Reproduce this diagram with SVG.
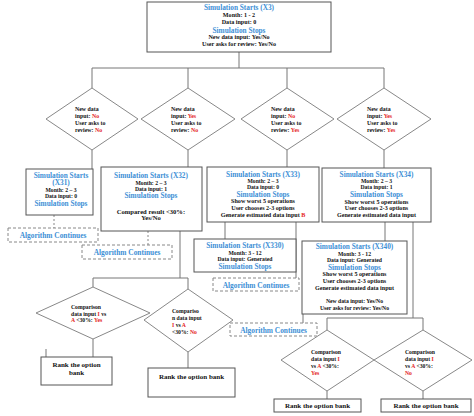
<svg xmlns="http://www.w3.org/2000/svg" width="474" height="416" viewBox="0 0 474 416">
<style>
.box{fill:#fff;stroke:#555;stroke-width:1}
.dia{fill:#fff;stroke:#888;stroke-width:1}
.dash{fill:#fff;stroke:#888;stroke-width:1;stroke-dasharray:3,2}
.ln{stroke:#777;stroke-width:1;fill:none}
.dl{stroke:#888;stroke-width:1;fill:none;stroke-dasharray:2,2}
text{font-family:"Liberation Serif","Times New Roman",serif;font-weight:bold}
.c{text-anchor:middle}
.bl{fill:#3d8fd6;font-size:7.3px}
.k{fill:#111;font-size:6.1px}
.s{fill:#111;font-size:5.7px}
.d{fill:#111;font-size:5.9px}
.r{fill:#e41e1e}
.rk{fill:#111;font-size:7px}
.ac{fill:#3d8fd6;font-size:7.4px}
</style>
<rect width="474" height="416" fill="#fff"/>
<g id="connectors">
<path class="ln" d="M239,52V68M92,68H384M92,68V88M188,68V88M287,68V88M384,68V88"/>
<path class="ln" d="M92,150V169M188,150V167M287,150V167M384,150V168"/>
<path class="dl" d="M54,215V228M148,231V245"/>
<path class="ln" d="M180,231V278M93,278H188M93,278V287M188,278V289"/>
<path class="ln" d="M93,339V357M46,349V357M188,352V368"/>
<path class="ln" d="M225,222V239M296,222V278M385,222V241M413,222V318M327,318H423M327,318V330M423,318V330M303,314V323"/>
<path class="ln" d="M327,391V399M423,391V399"/>
</g>
<g id="x3">
<rect class="box" x="147" y="2" width="184" height="50"/>
<text class="c bl" x="239" y="9.8">Simulation Starts (X3)</text>
<text class="c k" x="239" y="17.2">Month: 1 - 2</text>
<text class="c k" x="239" y="24.2">Data input: 0</text>
<text class="c bl" x="239" y="32.7">Simulation Stops</text>
<text class="c k" x="239" y="39.2">New data input: Yes/No</text>
<text class="c k" x="239" y="46.2">User asks for review: Yes/No</text>
</g>
<g id="d1">
<polygon class="dia" points="92,88 138,119 92,150 46,119"/>
<text class="d" x="75" y="111">New data</text>
<text class="d" x="75" y="118">input: <tspan class="r">No</tspan></text>
<text class="d" x="75" y="125">User asks to</text>
<text class="d" x="75" y="132">review: <tspan class="r">No</tspan></text>
</g>
<g id="d2">
<polygon class="dia" points="188,88 235,119 188,150 141,119"/>
<text class="d" x="171" y="111">New data</text>
<text class="d" x="171" y="118">input: <tspan class="r">Yes</tspan></text>
<text class="d" x="171" y="125">User asks to</text>
<text class="d" x="171" y="132">review: <tspan class="r">No</tspan></text>
</g>
<g id="d3">
<polygon class="dia" points="287,88 334,119 287,150 241,119"/>
<text class="d" x="271" y="111">New data</text>
<text class="d" x="271" y="118">input: <tspan class="r">No</tspan></text>
<text class="d" x="271" y="125">User asks to</text>
<text class="d" x="271" y="132">review: <tspan class="r">Yes</tspan></text>
</g>
<g id="d4">
<polygon class="dia" points="384,88 431,119 384,150 337,119"/>
<text class="d" x="367" y="111">New data</text>
<text class="d" x="367" y="118">input: <tspan class="r">Yes</tspan></text>
<text class="d" x="367" y="125">User asks to</text>
<text class="d" x="367" y="132">review: <tspan class="r">Yes</tspan></text>
</g>
<g id="x31">
<rect class="box" x="26" y="169" width="67" height="46"/>
<text class="c bl" x="61" y="177.5">Simulation Starts</text>
<text class="c bl" x="61" y="185.3">(X31)</text>
<text class="c s" x="61" y="192.3">Month: 2 – 3</text>
<text class="c s" x="61" y="198.3">Data input: 0</text>
<text class="c bl" x="61" y="206">Simulation Stops</text>
</g>
<g id="x32">
<rect class="box" x="101" y="167" width="101" height="64"/>
<text class="c bl" x="151" y="178">Simulation Starts (X32)</text>
<text class="c s" x="151" y="185">Month: 2 – 3</text>
<text class="c s" x="151" y="190.5">Data input: 1</text>
<text class="c bl" x="151" y="197.5">Simulation Stops</text>
<text class="c" x="151" y="213.5" style="fill:#111;font-size:6.6px">Compared result &lt;30%:</text>
<text class="c" x="151" y="220" style="fill:#111;font-size:6.6px">Yes/No</text>
</g>
<g id="ac1">
<rect class="dash" x="8" y="228" width="90" height="14"/>
<text class="c ac" x="53" y="237.8">Algorithm Continues</text>
</g>
<g id="ac2">
<rect class="dash" x="82" y="245" width="90" height="14"/>
<text class="c ac" x="127" y="254.8">Algorithm Continues</text>
</g>
<g id="x33">
<rect class="box" x="207" y="167" width="112" height="55"/>
<text class="c bl" x="263" y="176.5">Simulation Starts (X33)</text>
<text class="c s" x="263" y="182.8">Month: 2 – 3</text>
<text class="c s" x="263" y="188.6">Data input: 0</text>
<text class="c bl" x="263" y="196.5">Simulation Stops</text>
<text class="c k" x="263" y="203.2">Show worst 5 operations</text>
<text class="c k" x="263" y="210.2">User chooses 2-3 options</text>
<text class="c k" x="263" y="217.2">Generate estimated data input <tspan class="r">B</tspan></text>
</g>
<g id="x34">
<rect class="box" x="322" y="168" width="109" height="54"/>
<text class="c bl" x="376.5" y="177">Simulation Starts (X34)</text>
<text class="c s" x="376.5" y="183.3">Month: 2 – 3</text>
<text class="c s" x="376.5" y="189">Data input: 1</text>
<text class="c bl" x="376.5" y="196.5">Simulation Stops</text>
<text class="c k" x="376.5" y="204.2">Show worst 5 operations</text>
<text class="c k" x="376.5" y="210.2">User chooses 2-3 options</text>
<text class="c k" x="376.5" y="217.2">Generate estimated data input</text>
</g>
<g id="x330">
<rect class="box" x="194" y="239" width="102" height="33"/>
<text class="c bl" x="245" y="248">Simulation Starts (X330)</text>
<text class="c s" x="245" y="255">Month: 3 - 12</text>
<text class="c s" x="245" y="261">Data input: Generated</text>
<text class="c bl" x="245" y="268.5">Simulation Stops</text>
</g>
<g id="ac3">
<rect class="dash" x="213" y="278" width="86" height="13"/>
<text class="c ac" x="256" y="287.5">Algorithm Continues</text>
</g>
<g id="x340">
<rect class="box" x="302" y="241" width="105" height="73"/>
<text class="c bl" x="354.5" y="249">Simulation Starts (X340)</text>
<text class="c s" x="354.5" y="256">Month: 3 - 12</text>
<text class="c s" x="354.5" y="261.5">Data input: Generated</text>
<text class="c bl" x="354.5" y="269.5">Simulation Stops</text>
<text class="c k" x="354.5" y="276.2">Show worst 5 operations</text>
<text class="c k" x="354.5" y="283.2">User chooses 2-3 options</text>
<text class="c k" x="354.5" y="290.2">Generate estimated data input</text>
<text class="c s" x="354.5" y="303">New data input: Yes/No</text>
<text class="c s" x="354.5" y="310">User asks for review: Yes/No</text>
</g>
<g id="ac4">
<rect class="dash" x="230" y="323" width="87" height="13"/>
<text class="c ac" x="273.5" y="332.5">Algorithm Continues</text>
</g>
<g id="c1">
<polygon class="dia" points="93,287 150,313 93,339 36,313"/>
<text class="s" x="71" y="309">Comparison</text>
<text class="s" x="71" y="315.5">data input <tspan class="r">I</tspan> vs</text>
<text class="s" x="71" y="322"><tspan class="r">A</tspan> &lt;30%: <tspan class="r">Yes</tspan></text>
</g>
<g id="c2">
<polygon class="dia" points="188,289 233,320 188,352 144,320"/>
<text class="s" x="172" y="313">Compariso</text>
<text class="s" x="172" y="320">n data input</text>
<text class="s" x="172" y="327"><tspan class="r">I</tspan> vs <tspan class="r">A</tspan></text>
<text class="s" x="172" y="334">&lt;30%: <tspan class="r">No</tspan></text>
</g>
<g id="c3">
<polygon class="dia" points="327,330 374,360 327,391 281,360"/>
<text class="s" x="311" y="354">Comparison</text>
<text class="s" x="311" y="361">data input <tspan class="r">I</tspan></text>
<text class="s" x="311" y="368">vs <tspan class="r">A</tspan> &lt;30%:</text>
<text class="s" x="311" y="375"><tspan class="r">Yes</tspan></text>
</g>
<g id="c4">
<polygon class="dia" points="423,330 472,360 423,391 374,360"/>
<text class="s" x="405" y="354">Comparison</text>
<text class="s" x="405" y="361">data input <tspan class="r">I</tspan></text>
<text class="s" x="405" y="368">vs <tspan class="r">A</tspan> &lt;30%:</text>
<text class="s" x="405" y="375"><tspan class="r">No</tspan></text>
</g>
<g id="r1">
<rect class="box" x="41" y="357" width="71" height="28"/>
<text class="c rk" x="76.5" y="366.5">Rank the option</text>
<text class="c rk" x="76.5" y="374.5">bank</text>
</g>
<g id="r2">
<rect class="box" x="148" y="368" width="87" height="29"/>
<text class="c rk" x="191.5" y="378.5">Rank the option bank</text>
</g>
<g id="r3">
<rect class="box" x="274" y="399" width="87" height="13"/>
<text class="c rk" x="317.5" y="408.3">Rank the option bank</text>
</g>
<g id="r4">
<rect class="box" x="381" y="399" width="90" height="13"/>
<text class="c rk" x="426" y="408.3">Rank the option bank</text>
</g>
</svg>
